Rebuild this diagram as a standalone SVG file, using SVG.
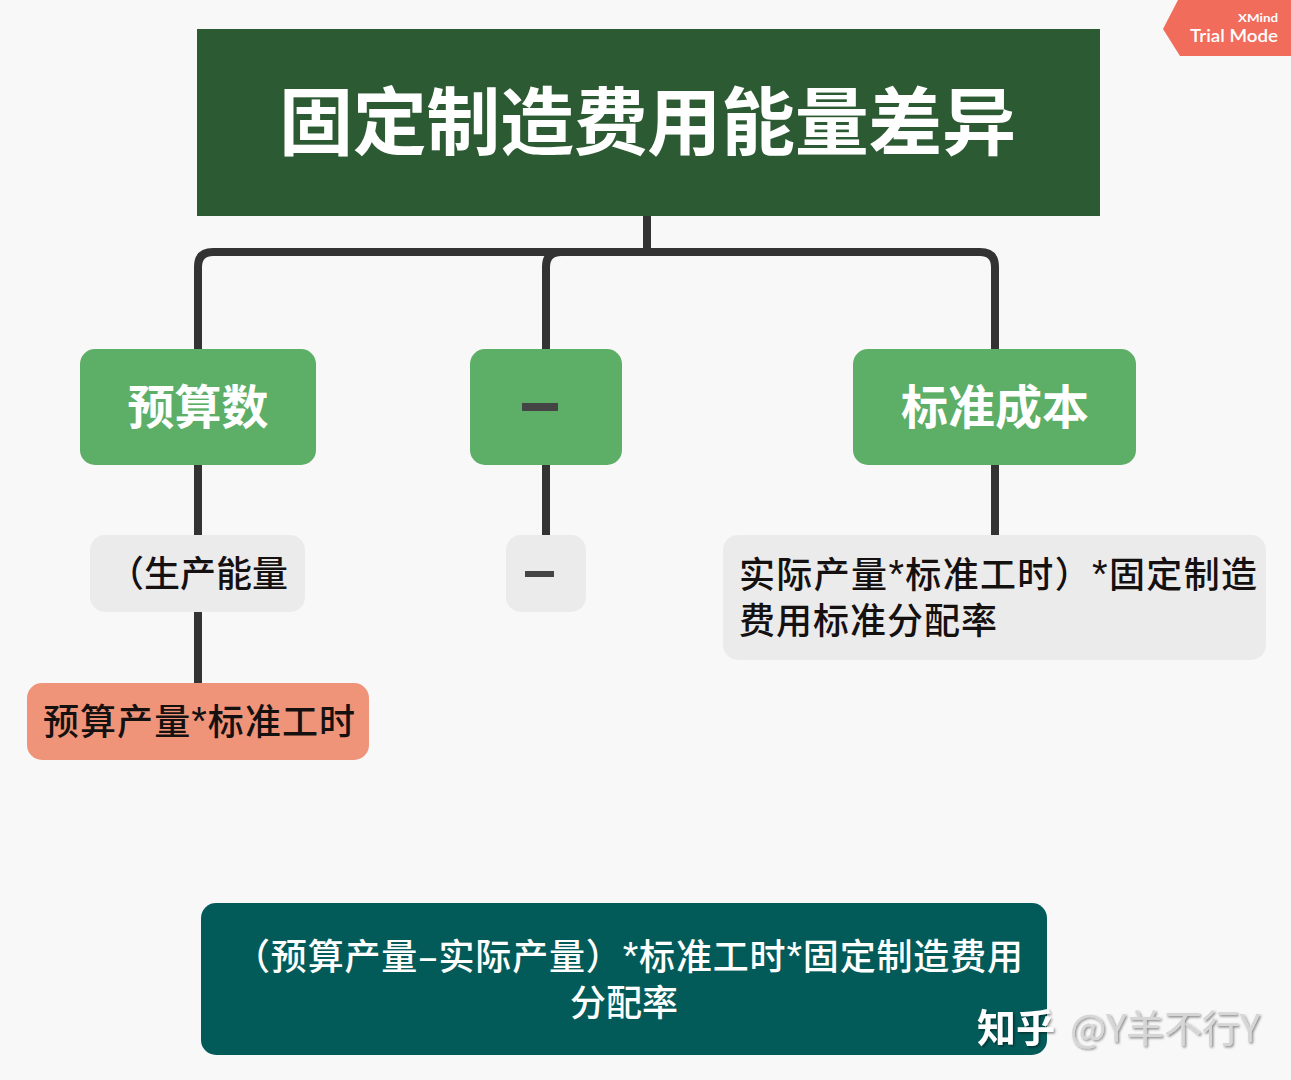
<svg xmlns="http://www.w3.org/2000/svg" width="1291" height="1080" viewBox="0 0 1291 1080">
<defs>
<style>
.cjk{font-family:"Noto Sans CJK SC","Noto Sans",sans-serif;}
.conn{fill:none;stroke:#333333;stroke-width:8;}
.green{fill:#5DAE66;}
.grey{fill:#EBEBEB;}
.wt{fill:#FFFFFF;font-weight:bold;}
.bk{fill:#161111;font-size:36px;font-weight:500;}
.ast{font-family:"Liberation Sans",sans-serif;font-size:40px;}
</style>
<filter id="sh" x="-10%" y="-10%" width="120%" height="130%">
<feDropShadow dx="1.5" dy="1.5" stdDeviation="1" flood-color="#000" flood-opacity="0.45"/>
</filter>
</defs>
<rect width="1291" height="1080" fill="#F8F8F8"/>

<g id="connectors">
<path class="conn" d="M647 216 V252"/>
<path class="conn" d="M198 349 V267 Q198 252 213 252 H980 Q995 252 995 267 V349"/>
<path class="conn" d="M546 349 V267 Q546 252 561 252"/>
<path class="conn" d="M198 465 V535"/>
<path class="conn" d="M198 612 V683"/>
<path class="conn" d="M546 465 V535"/>
<path class="conn" d="M995 465 V535"/>
</g>

<g id="root">
<rect x="197" y="29" width="903" height="187" fill="#2C5A32"/>
<text class="cjk wt" x="279" y="149" font-size="74" textLength="737" lengthAdjust="spacing">固定制造费用能量差异</text>
</g>

<g id="n-budget">
<rect class="green" x="80" y="349" width="236" height="116" rx="15"/>
<text class="cjk wt" x="198" y="424" font-size="47" text-anchor="middle">预算数</text>
</g>

<g id="n-minus">
<rect class="green" x="470" y="349" width="152" height="116" rx="15"/>
<rect x="522" y="403" width="36" height="8" fill="#444444"/>
</g>

<g id="n-standard">
<rect class="green" x="853" y="349" width="283" height="116" rx="15"/>
<text class="cjk wt" x="995" y="424" font-size="47" text-anchor="middle">标准成本</text>
</g>

<g id="n-capacity">
<rect class="grey" x="90" y="535" width="215" height="77" rx="15"/>
<text class="cjk bk" x="198" y="587" text-anchor="middle">（生产能量</text>
</g>

<g id="n-minus2">
<rect class="grey" x="506" y="535" width="80" height="77" rx="15"/>
<rect x="525" y="571" width="29" height="6" fill="#444444"/>
</g>

<g id="n-actual">
<rect class="grey" x="723" y="535" width="543" height="125" rx="15"/>
<text class="cjk bk"><tspan x="739" y="588" textLength="518" lengthAdjust="spacing">实际产量<tspan class="ast">*</tspan>标准工时）<tspan class="ast">*</tspan>固定制造</tspan><tspan x="739" y="634" textLength="258" lengthAdjust="spacing">费用标准分配率</tspan></text>
</g>

<g id="n-budget-hours">
<rect x="27" y="683" width="342" height="77" rx="15" fill="#EF9479"/>
<text class="cjk bk" x="43" y="735" textLength="312" lengthAdjust="spacing">预算产量<tspan class="ast">*</tspan>标准工时</text>
</g>

<g id="n-formula">
<rect x="201" y="903" width="846" height="152" rx="15" fill="#035B59"/>
<text class="cjk" font-size="36" font-weight="500" fill="#FFFFFF"><tspan x="234" y="970" textLength="789" lengthAdjust="spacing">（预算产量–实际产量）<tspan class="ast">*</tspan>标准工时<tspan class="ast">*</tspan>固定制造费用</tspan><tspan x="624" y="1016" text-anchor="middle">分配率</tspan></text>
</g>

<g id="trial-badge">
<polygon points="1178,0 1291,0 1291,56 1180,56 1163,29" fill="#F26C5C"/>
<text x="1238" y="22" font-family="Lato,'Open Sans',sans-serif" font-size="12" font-weight="bold" fill="#FFFFFF" textLength="40" lengthAdjust="spacingAndGlyphs">XMind</text>
<text x="1190" y="42" font-family="Lato,'Open Sans',sans-serif" font-size="18" font-weight="600" fill="#FFFFFF" textLength="88" lengthAdjust="spacingAndGlyphs">Trial Mode</text>
</g>

<g id="watermark" filter="url(#sh)">
<text class="cjk" x="977" y="1042" font-size="39" font-weight="bold" fill="#FFFFFF">知乎</text>
<text class="cjk" x="1070" y="1042" font-size="38" fill="#D6D6D6" textLength="190" lengthAdjust="spacing">@Y羊不行Y</text>
</g>
</svg>
